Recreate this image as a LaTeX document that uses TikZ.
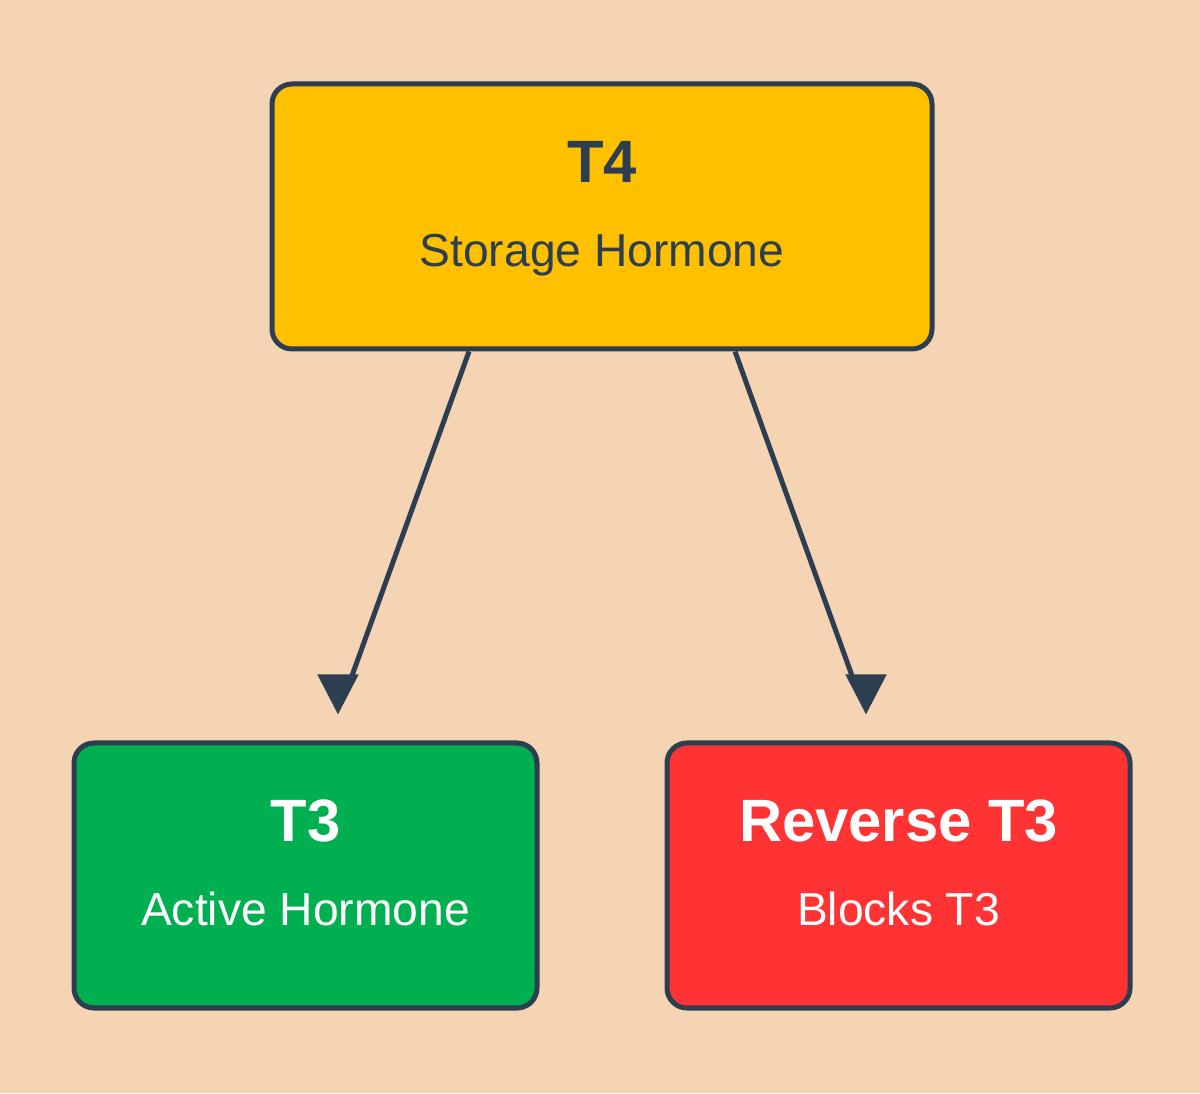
\documentclass[tikz,border=0pt]{standalone}
\usepackage{fontspec}
\setmainfont{Liberation Sans}
\usetikzlibrary{arrows.meta}

\definecolor{bgpeach}{HTML}{F5D4B4}
\definecolor{edgeblue}{HTML}{2C3E50}
\definecolor{storeyellow}{HTML}{FFC000}
\definecolor{activegreen}{HTML}{00B050}
\definecolor{blockred}{HTML}{FF3333}

\tikzset{
  hormone/.style={draw=edgeblue, line width=0.1cm, rounded corners=0.4cm,
    minimum height=5.3cm},
  title/.style={anchor=base, font=\fontsize{34}{40}\selectfont\bfseries},
  subtitle/.style={anchor=base, font=\fontsize{26.3}{31}\selectfont},
  link/.style={draw=edgeblue, line width=0.1cm, shorten >=0.8cm},
  linktip/.style={draw=edgeblue, line width=0.1cm,
    -{Triangle[width=0.8cm,length=0.8cm]}}
}

\begin{document}
\begin{tikzpicture}
  \fill[bgpeach] (0,0) rectangle (24,21.86);
  \useasboundingbox (0,0) rectangle (24,21.86);

  \node (t4) [hormone, fill=storeyellow, minimum width=13.2cm] at (12.04,17.53) {};
  \node (t3) [hormone, fill=activegreen, minimum width=9.26cm] at (6.11,4.35) {};
  \node (rt3) [hormone, fill=blockred, minimum width=9.26cm] at (17.97,4.35) {};

  \node (t4name) [title, text=edgeblue] at ([yshift=0.67cm]t4.center) {T4};
  \node (t4role) [subtitle, text=edgeblue] at ([yshift=-1.01cm]t4.center) {Storage Hormone};
  \node (t3name) [title, text=white] at ([yshift=0.67cm]t3.center) {T3};
  \node (t3role) [subtitle, text=white] at ([yshift=-1.01cm]t3.center) {Active Hormone};
  \node (rt3name) [title, text=white] at ([yshift=0.67cm]rt3.center) {Reverse T3};
  \node (rt3role) [subtitle, text=white] at ([yshift=-1.01cm]rt3.center) {Blocks T3};

  % arrow ends, heads point straight down
  \coordinate (t3tip) at ([xshift=0.65cm,yshift=0.52cm]t3.north);
  \coordinate (rt3tip) at ([xshift=-0.65cm,yshift=0.52cm]rt3.north);

  \draw [link] ([xshift=-2.66cm]t4.south) -- (t3tip);
  \draw [linktip] ([yshift=0.6cm]t3tip) -- (t3tip);
  \draw [link] ([xshift=2.66cm]t4.south) -- (rt3tip);
  \draw [linktip] ([yshift=0.6cm]rt3tip) -- (rt3tip);
\end{tikzpicture}
\end{document}
